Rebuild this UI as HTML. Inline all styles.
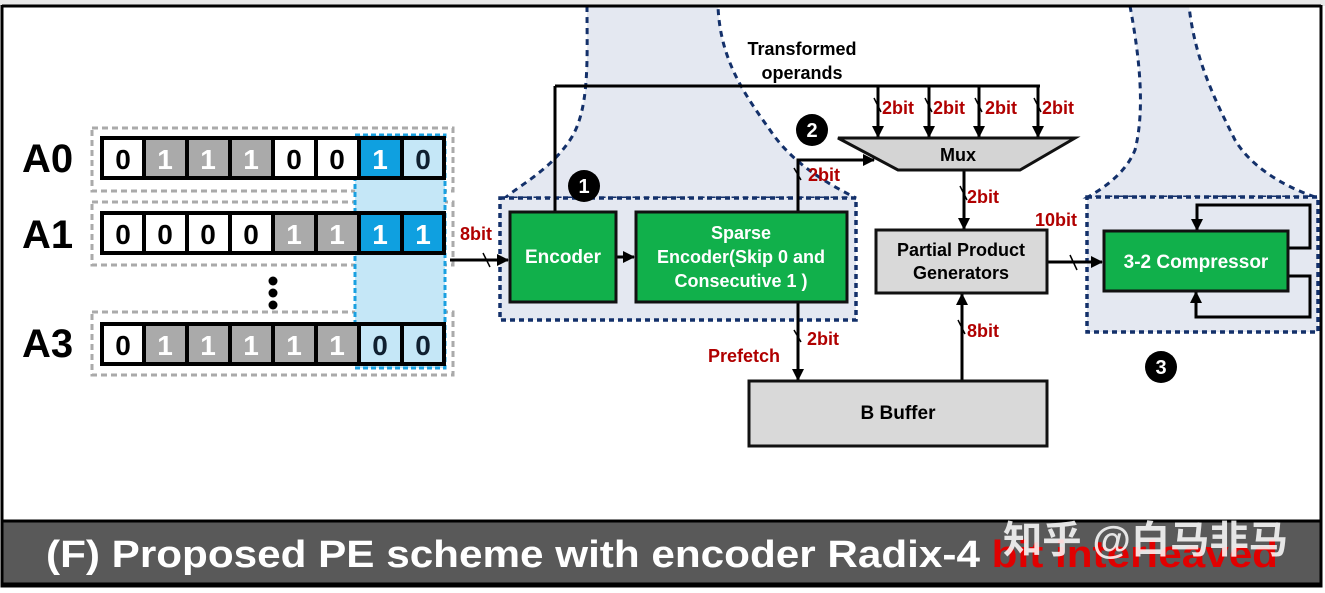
<!DOCTYPE html>
<html><head><meta charset="utf-8"><style>
html,body{margin:0;padding:0;background:#fff}
svg{display:block}
text{font-family:"Liberation Sans","Noto Sans CJK SC",sans-serif;font-weight:bold}
</style></head><body>
<svg width="1325" height="593" viewBox="0 0 1325 593">
<defs>
<marker id="ar" markerWidth="12" markerHeight="12" refX="11" refY="6" orient="auto" markerUnits="userSpaceOnUse"><path d="M0,0 L12,6 L0,12 Z" fill="#000"/></marker>
</defs>
<rect x="0" y="0" width="1325" height="6" fill="#e8e8e8"/>
<rect x="2" y="6" width="1319" height="580" fill="#fff" stroke="#000" stroke-width="3"/>
<path d="M587,6 C587,60 590,110 570,140 C550,170 520,185 505,198 L856,198 C820,180 790,160 770,130 C745,95 720,60 718,6 Z" fill="#e4e8f1" stroke="#13306a" stroke-width="3" stroke-dasharray="6,5"/>
<path d="M1130,6 C1140,60 1145,110 1135,150 C1125,175 1100,190 1088,197 L1315,197 C1280,185 1250,165 1235,140 C1215,100 1195,60 1189,6 Z" fill="#e4e8f1" stroke="#13306a" stroke-width="3" stroke-dasharray="6,5"/>
<rect x="500" y="198" width="356" height="122" fill="#e4e8f1" stroke="#13306a" stroke-width="3.5" stroke-dasharray="5,4"/>
<rect x="1087" y="197" width="231" height="135" fill="#e4e8f1" stroke="#13306a" stroke-width="3.5" stroke-dasharray="5,4"/>
<rect x="0" y="0" width="1325" height="5" fill="#e8e8e8"/>
<line x1="2" y1="6" x2="1321" y2="6" stroke="#000" stroke-width="3"/>
<g stroke="#aaa" stroke-width="3" stroke-dasharray="6,4" fill="none">
<rect x="92" y="128" width="361" height="63"/>
<rect x="92" y="202" width="361" height="63"/>
<rect x="92" y="312" width="361" height="63"/>
</g>
<rect x="355" y="135" width="90" height="233" fill="#c5e7f7" stroke="#1aa0e0" stroke-width="3" stroke-dasharray="5,3"/>
<g font-size="40"><text x="22" y="172">A0</text><text x="22" y="248">A1</text><text x="22" y="357">A3</text></g>
<g stroke="#000" stroke-width="4" font-size="28" text-anchor="middle">
<rect x="102" y="138" width="42" height="40" fill="#fff"/><text x="123" y="169" stroke="none">0</text>
<rect x="144" y="138" width="43" height="40" fill="#aaa"/><text x="165" y="169" fill="#fff" stroke="none">1</text>
<rect x="187" y="138" width="43" height="40" fill="#aaa"/><text x="208" y="169" fill="#fff" stroke="none">1</text>
<rect x="230" y="138" width="43" height="40" fill="#aaa"/><text x="251" y="169" fill="#fff" stroke="none">1</text>
<rect x="273" y="138" width="43" height="40" fill="#fff"/><text x="294" y="169" stroke="none">0</text>
<rect x="316" y="138" width="43" height="40" fill="#fff"/><text x="337" y="169" stroke="none">0</text>
<rect x="359" y="138" width="43" height="40" fill="#0fa0e0"/><text x="380" y="169" fill="#fff" stroke="none">1</text>
<rect x="402" y="138" width="42" height="40" fill="#c5e7f7"/><text x="423" y="169" fill="#102030" stroke="none">0</text>

<rect x="102" y="213" width="42" height="40" fill="#fff"/><text x="123" y="244" stroke="none">0</text>
<rect x="144" y="213" width="43" height="40" fill="#fff"/><text x="165" y="244" stroke="none">0</text>
<rect x="187" y="213" width="43" height="40" fill="#fff"/><text x="208" y="244" stroke="none">0</text>
<rect x="230" y="213" width="43" height="40" fill="#fff"/><text x="251" y="244" stroke="none">0</text>
<rect x="273" y="213" width="43" height="40" fill="#aaa"/><text x="294" y="244" fill="#fff" stroke="none">1</text>
<rect x="316" y="213" width="43" height="40" fill="#aaa"/><text x="337" y="244" fill="#fff" stroke="none">1</text>
<rect x="359" y="213" width="43" height="40" fill="#0fa0e0"/><text x="380" y="244" fill="#fff" stroke="none">1</text>
<rect x="402" y="213" width="42" height="40" fill="#0fa0e0"/><text x="423" y="244" fill="#fff" stroke="none">1</text>

<rect x="102" y="324" width="42" height="40" fill="#fff"/><text x="123" y="355" stroke="none">0</text>
<rect x="144" y="324" width="43" height="40" fill="#aaa"/><text x="165" y="355" fill="#fff" stroke="none">1</text>
<rect x="187" y="324" width="43" height="40" fill="#aaa"/><text x="208" y="355" fill="#fff" stroke="none">1</text>
<rect x="230" y="324" width="43" height="40" fill="#aaa"/><text x="251" y="355" fill="#fff" stroke="none">1</text>
<rect x="273" y="324" width="43" height="40" fill="#aaa"/><text x="294" y="355" fill="#fff" stroke="none">1</text>
<rect x="316" y="324" width="43" height="40" fill="#aaa"/><text x="337" y="355" fill="#fff" stroke="none">1</text>
<rect x="359" y="324" width="43" height="40" fill="#c5e7f7"/><text x="380" y="355" fill="#102030" stroke="none">0</text>
<rect x="402" y="324" width="42" height="40" fill="#c5e7f7"/><text x="423" y="355" fill="#102030" stroke="none">0</text>
</g>
<circle cx="273" cy="281" r="4.5"/><circle cx="273" cy="293" r="4.5"/><circle cx="273" cy="305" r="4.5"/>
<g stroke="#000" stroke-width="3" fill="none">
<line x1="450" y1="260" x2="508" y2="260" marker-end="url(#ar)"/>
<line x1="555" y1="212" x2="555" y2="86"/>
<line x1="555" y1="86" x2="1040" y2="86"/>
<line x1="878" y1="86" x2="878" y2="137" marker-end="url(#ar)"/>
<line x1="929" y1="86" x2="929" y2="137" marker-end="url(#ar)"/>
<line x1="979" y1="86" x2="979" y2="137" marker-end="url(#ar)"/>
<line x1="1038" y1="86" x2="1038" y2="137" marker-end="url(#ar)"/>
<line x1="616" y1="257" x2="634" y2="257" marker-end="url(#ar)"/>
<polyline points="798,212 798,160 874,160" marker-end="url(#ar)"/>
<line x1="964" y1="170" x2="964" y2="229" marker-end="url(#ar)"/>
<line x1="798" y1="302" x2="798" y2="380" marker-end="url(#ar)"/>
<line x1="962" y1="381" x2="962" y2="294" marker-end="url(#ar)"/>
<line x1="1047" y1="262" x2="1102" y2="262" marker-end="url(#ar)"/>
<polyline points="1288,248 1310,248 1310,205 1197,205 1197,230" marker-end="url(#ar)"/>
<polyline points="1288,276 1310,276 1310,317 1196,317 1196,292" marker-end="url(#ar)"/>
</g>
<g stroke="#000" stroke-width="1.5">
<line x1="483" y1="253" x2="490" y2="267"/>
<line x1="874" y1="98" x2="881" y2="112"/><line x1="925" y1="98" x2="932" y2="112"/>
<line x1="975" y1="98" x2="982" y2="112"/><line x1="1034" y1="98" x2="1041" y2="112"/>
<line x1="794" y1="168" x2="801" y2="180"/><line x1="960" y1="186" x2="967" y2="200"/>
<line x1="794" y1="330" x2="801" y2="342"/><line x1="958" y1="320" x2="965" y2="334"/>
<line x1="1070" y1="255" x2="1077" y2="270"/>
</g>
<rect x="510" y="212" width="106" height="90" fill="#11b04b" stroke="#111" stroke-width="3"/>
<text x="563" y="263" fill="#fff" font-size="19" text-anchor="middle">Encoder</text>
<rect x="636" y="212" width="211" height="90" fill="#11b04b" stroke="#111" stroke-width="3"/>
<g fill="#fff" font-size="18" text-anchor="middle"><text x="741" y="239">Sparse</text><text x="741" y="263">Encoder(Skip 0 and</text><text x="741" y="287">Consecutive 1 )</text></g>
<polygon points="838,138 1075,138 1020,170 898,170" fill="#d4d4d4" stroke="#111" stroke-width="3"/>
<text x="958" y="161" font-size="18" text-anchor="middle">Mux</text>
<rect x="876" y="230" width="171" height="63" fill="#d9d9d9" stroke="#111" stroke-width="3"/>
<g font-size="18" text-anchor="middle"><text x="961" y="256">Partial Product</text><text x="961" y="279">Generators</text></g>
<rect x="749" y="381" width="298" height="65" fill="#d9d9d9" stroke="#111" stroke-width="3"/>
<text x="898" y="419" font-size="19" text-anchor="middle">B Buffer</text>
<rect x="1104" y="231" width="184" height="60" fill="#11b04b" stroke="#111" stroke-width="3"/>
<text x="1196" y="268" fill="#fff" font-size="19" text-anchor="middle">3-2 Compressor</text>
<g font-size="18" text-anchor="middle"><text x="802" y="55">Transformed</text><text x="802" y="79">operands</text></g>
<g fill="#b00000" font-size="18">
<text x="460" y="240">8bit</text>
<text x="882" y="114">2bit</text><text x="933" y="114">2bit</text><text x="985" y="114">2bit</text><text x="1042" y="114">2bit</text>
<text x="808" y="181">2bit</text><text x="967" y="203">2bit</text>
<text x="807" y="345">2bit</text><text x="967" y="337">8bit</text>
<text x="708" y="362">Prefetch</text><text x="1035" y="226">10bit</text>
</g>
<g font-size="20" text-anchor="middle">
<circle cx="584" cy="186" r="16"/><text x="584" y="193" fill="#fff">1</text>
<circle cx="812" cy="130" r="16"/><text x="812" y="137" fill="#fff">2</text>
<circle cx="1161" cy="367" r="16"/><text x="1161" y="374" fill="#fff">3</text>
</g>
<rect x="2" y="521" width="1319" height="63" fill="#595959" stroke="#000" stroke-width="3"/>
<text x="46" y="567" fill="#fff" font-size="38" textLength="1232" lengthAdjust="spacingAndGlyphs">(F) Proposed PE scheme with encoder Radix-4 <tspan fill="#e00000">bit interleaved</tspan></text>
<text x="1003" y="553" fill="#fff" fill-opacity="0.85" font-size="38" font-weight="normal" textLength="285" lengthAdjust="spacingAndGlyphs">知乎 @白马非马</text>
</svg>
</body></html>
